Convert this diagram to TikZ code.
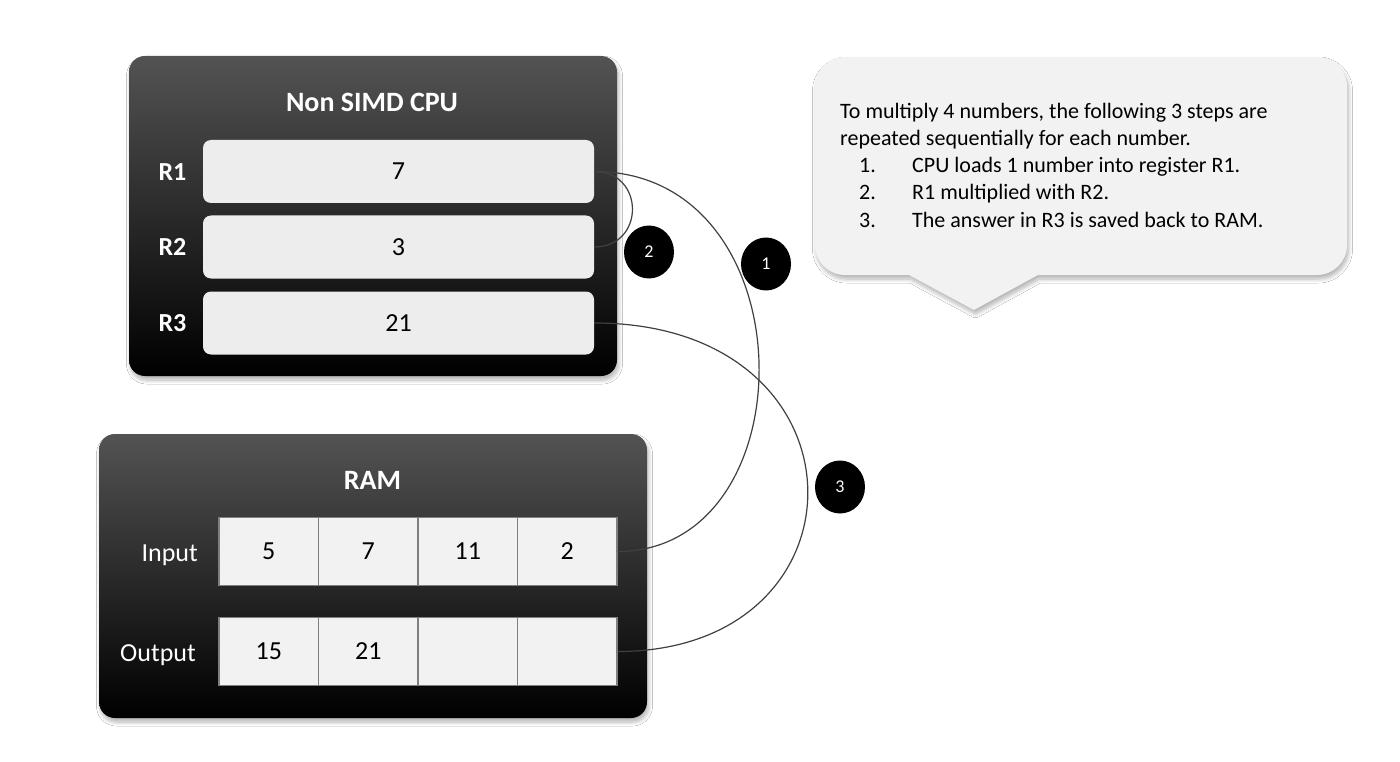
\documentclass[tikz,border=0pt]{standalone}
\usepackage{fontspec}
\setmainfont{Carlito}
\usetikzlibrary{shapes.geometric,shadows.blur}
\definecolor{boxtop}{HTML}{535353}
\definecolor{linkgray}{HTML}{404040}
\definecolor{regfill}{HTML}{EDEDED}
\definecolor{cellfill}{HTML}{F2F2F2}
\definecolor{cellborder}{HTML}{7F7F7F}
\definecolor{callfill}{HTML}{F2F2F2}
\begin{document}
\begin{tikzpicture}[x=1pt,y=-1pt,
  softshadow/.style={blur shadow={shadow xshift=1.5pt, shadow yshift=-4pt, shadow blur radius=4pt, shadow blur steps=8, shadow opacity=30}},
  darkbox/.style={rounded corners=16pt, top color=boxtop, bottom color=black, draw=none, inner sep=0pt, softshadow},
  regbox/.style={rounded corners=8pt, fill=regfill, minimum width=391pt, minimum height=63pt, inner sep=0pt, font=\fontsize{26}{31}\selectfont},
  cellbox/.style={draw=cellborder, line width=1.2pt, fill=cellfill, minimum width=99.5pt, minimum height=68pt, inner sep=0pt, font=\fontsize{26}{31}\selectfont},
  boxtitle/.style={text=white, inner sep=0pt, font=\bfseries\fontsize{28}{33}\selectfont},
  rlabel/.style={text=white, inner sep=0pt, font=\bfseries\fontsize{26}{31}\selectfont},
  ramlabel/.style={text=white, inner sep=0pt, anchor=base east, font=\fontsize{26}{31}\selectfont},
  badge/.style={ellipse, fill=black, minimum width=50pt, minimum height=53pt, inner sep=0pt, text=white, font=\fontsize{18}{21}\selectfont},
  link/.style={draw=linkgray, line width=1.2pt},
  ctext/.style={anchor=base west, inner sep=0pt, font=\fontsize{22}{26}\selectfont},
  callshape/.style={fill=callfill, draw=none, softshadow}
]
\useasboundingbox[fill=white] (0,0) rectangle (1400,762);

% CPU
\node[darkbox, minimum width=488pt, minimum height=320pt] (cpu) at (373,216) {};
\node[boxtitle] (cputitle) at (372,102) {Non SIMD CPU};
\node[regbox] (r1) at (398.5,171.5) {7};
\node[regbox] (r2) at (398.5,247) {3};
\node[regbox] (r3) at (398.5,323) {21};
\node[rlabel] (l1) at (172.5,172) {R1};
\node[rlabel] (l2) at (172.5,247) {R2};
\node[rlabel] (l3) at (172.5,323) {R3};

% RAM
\node[darkbox, minimum width=548pt, minimum height=284pt] (ram) at (373,576) {};
\node[boxtitle] (ramtitle) at (372.5,480) {RAM};
\node[cellbox] (in1) at (268.75,551.5) {5};
\node[cellbox] (in2) at (368.25,551.5) {7};
\node[cellbox] (in3) at (467.75,551.5) {11};
\node[cellbox] (in4) at (567.25,551.5) {2};
\node[cellbox] (out1) at (268.75,651.5) {15};
\node[cellbox] (out2) at (368.25,651.5) {21};
\node[cellbox] (out3) at (467.75,651.5) {};
\node[cellbox] (out4) at (567.25,651.5) {};
\node[ramlabel] (inlabel) at (198,561) {Input};
\node[ramlabel] (outlabel) at (196,661) {Output};

% connectors
\draw[link] (r1.east) .. controls +(51,0) and +(51,0) .. (r2.east);
\draw[link] (r1.east) .. controls (810,171.5) and (810,551.5) .. (in4.east);
\draw[link] (r3.east) .. controls (875,323) and (875,651.5) .. (out4.east);

% badges
\node[badge] (b2) at (649,252) {2};
\node[badge] (b1) at (766,264) {1};
\node[badge] (b3) at (840,487) {3};

% callout
\path[callshape] (815,87) arc[start angle=180, end angle=270, radius=30]
  -- (1317,57) arc[start angle=270, end angle=360, radius=30]
  -- (1347,245) arc[start angle=0, end angle=90, radius=30]
  -- (1038,275) -- (974,310) -- (909,275)
  -- (845,275) arc[start angle=90, end angle=180, radius=30] -- cycle;

\node[ctext] (t1) at (840,119) {To multiply 4 numbers, the following 3 steps are};
\node[ctext] (t2) at (840,146) {repeated sequentially for each number.};
\node[ctext] (n1) at (859,173) {1.};
\node[ctext] (s1) at (912,173) {CPU loads 1 number into register R1.};
\node[ctext] (n2) at (859,200) {2.};
\node[ctext] (s2) at (912,200) {R1 multiplied with R2.};
\node[ctext] (n3) at (859,227) {3.};
\node[ctext] (s3) at (912,227) {The answer in R3 is saved back to RAM.};
\end{tikzpicture}
\end{document}
